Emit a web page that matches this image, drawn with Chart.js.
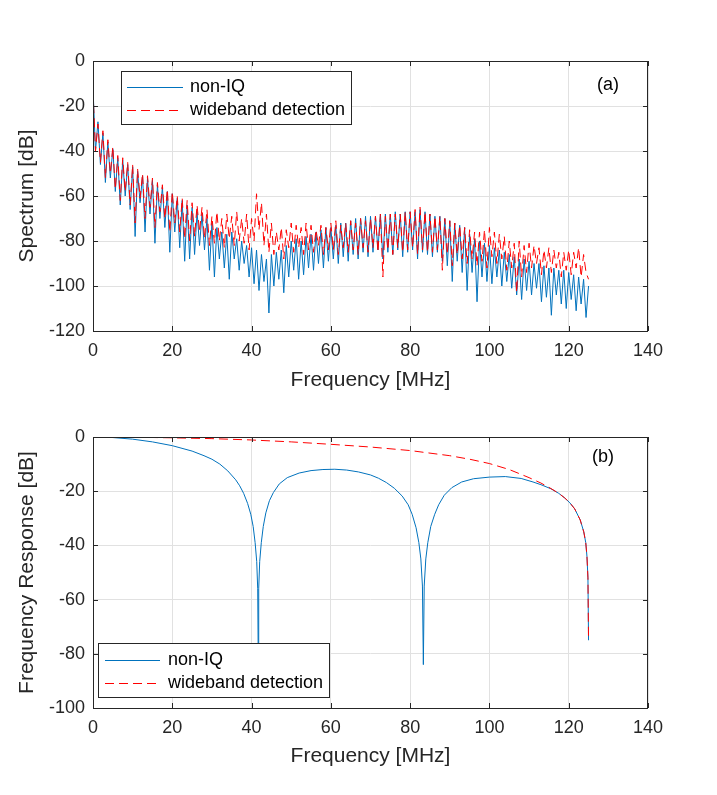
<!DOCTYPE html>
<html>
<head>
<meta charset="utf-8">
<script src="https://cdn.jsdelivr.net/npm/chart.js@4.4.1/dist/chart.umd.min.js"></script>
<style>
  body { margin: 0; background: #fff; }
  canvas { position: absolute; left: 0; }
  #chartA { top: 0; }
  #chartB { top: 395px; }
</style>
</head>
<body>
<canvas id="chartA" width="717" height="400"></canvas>
<canvas id="chartB" width="717" height="400"></canvas>
<script>
const seriesNames = ['non-IQ', 'wideband detection'];
const lineColors = ['#0072BD', '#FF0000'];

// (a) spectrum, one sample every 0.625 MHz from 0 to 125 MHz (8 samples per 5 MHz row)
const stepA = 0.625;
const nonIqSpectrum = [
  -12, -40, -27, -46, -32, -54, -36, -52,
  -39, -58, -43, -64, -44, -60, -46, -66,
  -47, -78, -49, -63, -51, -76, -52, -68,
  -53, -81, -55, -70, -56, -74, -58, -85,
  -59, -76, -61, -83, -62, -89, -64, -88,
  -65, -86, -67, -82, -68, -84, -70, -93,
  -72, -96, -74, -88, -76, -92, -77, -97,
  -76, -88, -79, -93, -80, -90, -82, -96,
  -83, -99, -84, -102, -86, -98, -88, -112,
  -86, -100, -85, -97, -84, -103, -82, -96,
  -80, -93, -79, -97, -80, -95, -78, -92,
  -77, -93, -76, -90, -75, -92, -74, -89,
  -74, -88, -73, -90, -72, -87, -72, -89,
  -71, -86, -70, -88, -70, -85, -69, -87,
  -69, -85, -69, -84, -68, -88, -68, -85,
  -68, -86, -67, -84, -68, -87, -67, -85,
  -67, -84, -67, -88, -66, -85, -67, -86,
  -68, -87, -69, -85, -69, -89, -70, -91,
  -71, -98, -72, -89, -73, -94, -74, -102,
  -77, -94, -79, -107, -80, -96, -81, -98,
  -82, -99, -83, -96, -84, -100, -85, -98,
  -86, -101, -87, -104, -88, -106, -88, -102,
  -89, -104, -90, -101, -90, -107, -91, -105,
  -92, -113, -92, -104, -93, -108, -93, -110,
  -94, -106, -95, -111, -96, -108, -97, -114,
  -100
];
const widebandSpectrum = [
  -13, -40, -28, -45, -31, -52, -35, -50,
  -38, -57, -42, -62, -43, -58, -45, -64,
  -46, -72, -48, -61, -50, -70, -51, -65,
  -52, -74, -54, -67, -55, -70, -57, -76,
  -58, -72, -60, -76, -61, -79, -62, -80,
  -63, -78, -64, -76, -65, -79, -66, -82,
  -69, -81, -67, -80, -70, -83, -68, -79,
  -69, -82, -67, -80, -70, -81, -68, -84,
  -70, -80, -59, -75, -63, -82, -68, -85,
  -72, -86, -76, -84, -74, -88, -75, -83,
  -72, -85, -73, -83, -74, -86, -72, -84,
  -73, -85, -75, -82, -73, -86, -74, -84,
  -72, -84, -71, -86, -73, -83, -72, -85,
  -71, -84, -72, -86, -70, -83, -71, -85,
  -70, -83, -69, -85, -68, -96, -69, -84,
  -68, -86, -68, -83, -68, -85, -67, -84,
  -67, -83, -66, -86, -65, -84, -67, -85,
  -68, -85, -69, -84, -69, -93, -70, -86,
  -71, -91, -72, -86, -73, -88, -74, -90,
  -75, -88, -76, -91, -76, -89, -75, -92,
  -74, -87, -76, -90, -77, -88, -78, -93,
  -80, -92, -81, -103, -80, -96, -82, -94,
  -81, -92, -82, -90, -83, -95, -84, -92,
  -83, -94, -84, -92, -85, -96, -85, -93,
  -84, -95, -85, -92, -83, -96, -86, -94,
  -97
];

// (b) frequency response
const nonIqFreq = [0, 5, 10, 15, 20, 25, 28, 30, 32, 34, 36, 37, 38, 39, 39.8, 40.4, 40.9, 41.3, 41.55, 41.67,
  41.8, 42.05, 42.45, 42.95, 43.6, 44.5, 45.5, 47, 49, 52, 55, 58, 61, 64, 67, 70, 72, 74, 76, 78,
  79.5, 80.5, 81.5, 82.2, 82.7, 83.1, 83.33, 83.55, 83.95, 84.45, 85.2, 86.2, 87.2, 88.6, 90.5, 93, 96,
  100, 104, 108, 111, 113, 115.5, 117.5, 119, 120.3, 121.5, 122.9, 123.8, 124.3, 124.6, 124.85, 125];
const nonIqResponse = [0, -0.2, -0.8, -1.8, -3.2, -5.2, -6.9, -8.2, -10, -12.5, -15.8, -18, -20.8, -24.5, -28.5, -33, -39, -46, -56, -80,
  -56, -46, -39, -33, -28, -23.5, -20.5, -17.3, -15, -13.3, -12.4, -12, -11.9, -12.2, -12.9, -14, -15.2, -16.8, -18.9, -21.8,
  -25, -28.5, -33.5, -39, -45, -55, -84, -55, -45, -39, -33, -28.5, -25, -21.5, -18.7, -16.6, -15.4,
  -14.8, -14.6, -15.3, -16.6, -17.6, -19.1, -20.8, -22.5, -24.3, -26.5, -30.6, -35, -39, -44, -52, -75];
const widebandFreq = [0, 10, 20, 30, 40, 50, 60, 70, 80, 90, 95, 100, 105, 110, 113, 115.5, 117.5, 119, 120.3, 121.5,
  122.9, 123.8, 124.3, 124.6, 124.85, 125];
const widebandResponse = [0, -0.07, -0.3, -0.6, -1.1, -1.8, -2.7, -3.7, -5.0, -6.9, -8.2, -9.8, -12.0, -15.0, -17.0, -19.0, -20.8, -22.5, -24.3, -26.5,
  -30.6, -35, -39, -44, -52, -75];

const TXT = '#262626';
const GRID = '#e1e1e1';
const FONT = 'Arial, "Liberation Sans", Helvetica, sans-serif';

function toPoints(xs, ys) {
  return ys.map((y, i) => ({ x: xs[i], y: y }));
}
const gridA = nonIqSpectrum.map((v, i) => i * stepA);

// box around the axes with inward ticks on all four sides
const framePlugin = {
  id: 'frame',
  afterDatasetsDraw(chart) {
    const { ctx, chartArea: a, scales } = chart;
    ctx.save();
    ctx.strokeStyle = TXT;
    ctx.lineWidth = 1;
    ctx.strokeRect(a.left + 0.5, a.top + 0.5, a.right - a.left - 1, a.bottom - a.top);
    ctx.beginPath();
    scales.x.ticks.forEach(t => {
      const px = Math.round(scales.x.getPixelForValue(t.value)) + 0.5;
      ctx.moveTo(px, a.bottom); ctx.lineTo(px, a.bottom - 5);
      ctx.moveTo(px, a.top); ctx.lineTo(px, a.top + 5);
    });
    scales.y.ticks.forEach(t => {
      const py = Math.round(scales.y.getPixelForValue(t.value)) + 0.5;
      ctx.moveTo(a.left, py); ctx.lineTo(a.left + 5, py);
      ctx.moveTo(a.right, py); ctx.lineTo(a.right - 5, py);
    });
    ctx.stroke();
    ctx.restore();
  }
};

// MATLAB-like legend box inside the axes
const boxLegend = {
  id: 'boxLegend',
  afterDraw(chart, args, o) {
    const { ctx, chartArea: a } = chart;
    const x0 = a.left + o.left, y0 = a.top + o.top;
    ctx.save();
    ctx.fillStyle = '#fff';
    ctx.fillRect(x0, y0, o.width, o.height);
    ctx.strokeStyle = TXT;
    ctx.lineWidth = 1;
    ctx.strokeRect(x0 + 0.5, y0 + 0.5, o.width, o.height);
    ctx.font = '18px ' + FONT;
    ctx.textBaseline = 'middle';
    chart.data.datasets.forEach((ds, i) => {
      const yy = Math.round(y0 + o.rows[i]) + 0.5;
      ctx.strokeStyle = ds.borderColor;
      ctx.setLineDash(ds.borderDash || []);
      ctx.beginPath();
      ctx.moveTo(x0 + o.lineFrom, yy);
      ctx.lineTo(x0 + o.lineTo, yy);
      ctx.stroke();
      ctx.setLineDash([]);
      ctx.fillStyle = '#000';
      ctx.fillText(ds.label, x0 + o.textX, yy);
    });
    ctx.restore();
  }
};

const panelTag = {
  id: 'panelTag',
  afterDraw(chart, args, o) {
    const { ctx, chartArea: a } = chart;
    ctx.save();
    ctx.font = '18px ' + FONT;
    ctx.fillStyle = '#000';
    ctx.textBaseline = 'middle';
    ctx.fillText(o.text, a.left + o.x, a.top + o.y);
    ctx.restore();
  }
};

function makeDatasets(xs1, ys1, xs2, ys2) {
  return [
    { label: seriesNames[0], data: toPoints(xs1, ys1), borderColor: lineColors[0], borderWidth: 1,
      pointRadius: 0, tension: 0, order: 2 },
    { label: seriesNames[1], data: toPoints(xs2, ys2), borderColor: lineColors[1], borderWidth: 1,
      borderDash: [9, 5], pointRadius: 0, tension: 0, order: 1 }
  ];
}

function makeOptions(yMin, yTitle, padTop, xHeight, titlePad, legendBox, tag) {
  return {
    responsive: false,
    animation: false,
    events: [],
    layout: { padding: { top: padTop, right: 69, left: 0, bottom: 0 } },
    plugins: {
      legend: { display: false },
      tooltip: { enabled: false },
      boxLegend: legendBox,
      panelTag: tag
    },
    scales: {
      x: {
        type: 'linear', min: 0, max: 140,
        ticks: { stepSize: 20, color: TXT, font: { size: 18, family: FONT }, padding: 9, maxRotation: 0 },
        grid: { color: GRID, drawTicks: false },
        border: { display: false },
        title: { display: true, text: 'Frequency [MHz]', color: TXT, font: { size: 21, family: FONT },
          padding: { top: 0, bottom: titlePad } },
        afterFit: s => { s.height = xHeight; }
      },
      y: {
        type: 'linear', min: yMin, max: 0,
        ticks: { stepSize: 20, color: TXT, font: { size: 18, family: FONT }, padding: 8 },
        grid: { color: GRID, drawTicks: false },
        border: { display: false },
        title: { display: true, text: yTitle, color: TXT, font: { size: 21, family: FONT },
          padding: { top: 14.4, bottom: 0 } },
        afterFit: s => { s.width = 93; }
      }
    }
  };
}

new Chart(document.getElementById('chartA').getContext('2d'), {
  type: 'line',
  data: { datasets: makeDatasets(gridA, nonIqSpectrum, gridA, widebandSpectrum) },
  options: makeOptions(-120, 'Spectrum [dB]', 61, 69, 7.4,
    { left: 28, top: 10, width: 230, height: 53, lineFrom: 6, lineTo: 62, textX: 69, rows: [15.7, 39] },
    { text: '(a)', x: 504, y: 24 }),
  plugins: [framePlugin, boxLegend, panelTag]
});

new Chart(document.getElementById('chartB').getContext('2d'), {
  type: 'line',
  data: { datasets: makeDatasets(nonIqFreq, nonIqResponse, widebandFreq, widebandResponse) },
  options: makeOptions(-100, 'Frequency Response [dB]', 42, 87, 26.4,
    { left: 5, top: 206, width: 231, height: 54, lineFrom: 7, lineTo: 62, textX: 70, rows: [17, 40] },
    { text: '(b)', x: 499, y: 20 }),
  plugins: [framePlugin, boxLegend, panelTag]
});
</script>
</body>
</html>
